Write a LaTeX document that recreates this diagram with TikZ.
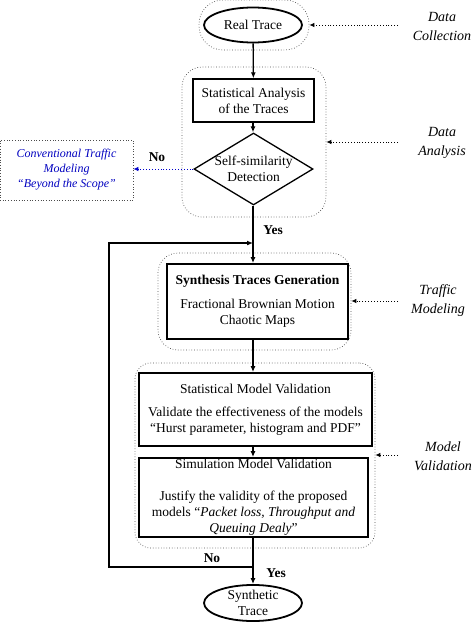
\documentclass[tikz,border=0pt]{standalone}
\usepackage{fontspec}
\setmainfont{Liberation Serif}
\usetikzlibrary{shapes.geometric,arrows.meta}
\tikzset{
  txt/.style={font=\fontsize{13.5}{16}\selectfont, align=center},
  flow/.style={line width=1.3pt, -{Latex[length=6pt,width=5pt]}},
  pointer/.style={dotted, line width=0.9pt, -{Latex[length=5pt,width=4.5pt]}},
  frame/.style={draw=black!70, dotted, line width=0.7pt, rounded corners=20pt},
  block/.style={txt, draw, line width=1.3pt, inner sep=0pt},
  boldblock/.style={txt, draw, line width=1.8pt, inner sep=0pt},
  terminal/.style={txt, ellipse, draw, line width=1.8pt, inner sep=0pt},
  decision/.style={diamond, draw, line width=1.3pt, inner sep=0pt},
  phase/.style={font=\fontsize{14}{19}\selectfont\itshape, align=center},
  answer/.style={font=\fontsize{13.5}{16}\selectfont\bfseries},
  scopebox/.style={draw=black!70, dotted, line width=0.7pt, text=blue!75!black,
    font=\fontsize{12}{15}\selectfont\itshape, align=center},
}

\begin{document}
\begin{tikzpicture}[x=1pt,y=-1pt]
\useasboundingbox (0,0) rectangle (474,622);
\node[frame, rounded corners=24pt, minimum width=110pt, minimum height=50pt] (collectFrame) at (254,25) {};
\node[terminal, minimum width=98pt, minimum height=35pt] (real) at (253,25) {Real Trace};
\node[frame, minimum width=144pt, minimum height=150pt] (analysisFrame) at (254,142) {};
\node[block, minimum width=121pt, minimum height=43pt] (statA) at (253.5,100.5) {Statistical Analysis\\of the Traces};
\node[decision, minimum width=119pt, minimum height=72pt] (detect) at (253.5,169) {};
\node[txt] (detectText) at (253.5,169) {Self-similarity\\Detection};
\node[scopebox, minimum width=133pt, minimum height=60pt] (conv) at (66.5,170) {Conventional Traffic\\Modeling\\``Beyond the Scope''};
\node[frame, minimum width=193pt, minimum height=97pt] (synthFrame) at (254.5,301.5) {};
\node[boldblock, minimum width=181pt, minimum height=75pt] (synth) at (257.5,301.5) {\textbf{Synthesis Traces Generation}\\[8pt]Fractional Brownian Motion\\Chaotic Maps};
\node[frame, rounded corners=16pt, minimum width=240pt, minimum height=185pt] (validFrame) at (255,455.5) {};
\node[boldblock, minimum width=233pt, minimum height=73pt] (statM) at (255.5,409.5) {Statistical Model Validation\\[7pt]Validate the effectiveness of the models\\``Hurst parameter, histogram and PDF''};
\node[boldblock, minimum width=229pt, minimum height=79pt] (simV) at (253.5,497.5) {Simulation Model Validation\\[16pt]Justify the validity of the proposed\\models ``\textit{Packet loss, Throughput and}\\\textit{Queuing Dealy}''};
\node[terminal, minimum width=98pt, minimum height=36pt] (synthetic) at (253,603) {Synthetic\\Trace};

\node[phase] (collectLabel) at (442,26) {Data\\Collection};
\node[phase] (analysisLabel) at (442,143) {Data\\Analysis};
\node[phase] (modelingLabel) at (438,301) {Traffic\\Modeling};
\node[phase] (validLabel) at (443,456) {Model\\Validation};
\coordinate (collectTail) at (398,25);
\coordinate (analysisTail) at (398,142);
\coordinate (modelingTail) at (398,301);
\coordinate (validTail) at (398,455);
\draw[pointer] (collectTail) -- (collectFrame.east);
\draw[pointer] (analysisTail) -- (analysisFrame.east |- analysisTail);
\draw[pointer] (modelingTail) -- (synthFrame.east |- modelingTail);
\draw[pointer] (validTail) -- (validFrame.east |- validTail);

\draw[flow] (real) -- (statA);
\draw[flow] (statA.south -| real) -- (detect.north -| real);
\draw[pointer, blue!80!black] (detect.west) -- (conv.east |- detect.west);
\node[answer] (noLeft) at (157,157) {No};
\draw[flow] (detect.south -| real) -- (synth.north -| real);
\node[answer] (yesTop) at (273,230) {Yes};
\draw[flow] (synth.south -| real) -- (statM.north -| real);
\draw[flow] (statM.south -| real) -- (simV.north -| real);
\draw[flow] (simV.south -| real) -- (synthetic);
\coordinate (loopOut) at (253,567);
\coordinate (loopIn) at (253,243);
\draw[flow] (loopOut) -- ++(-144,0) |- (loopIn);
\node[answer] (noBottom) at (212,558) {No};
\node[answer] (yesBottom) at (276,573) {Yes};
\end{tikzpicture}
\end{document}
